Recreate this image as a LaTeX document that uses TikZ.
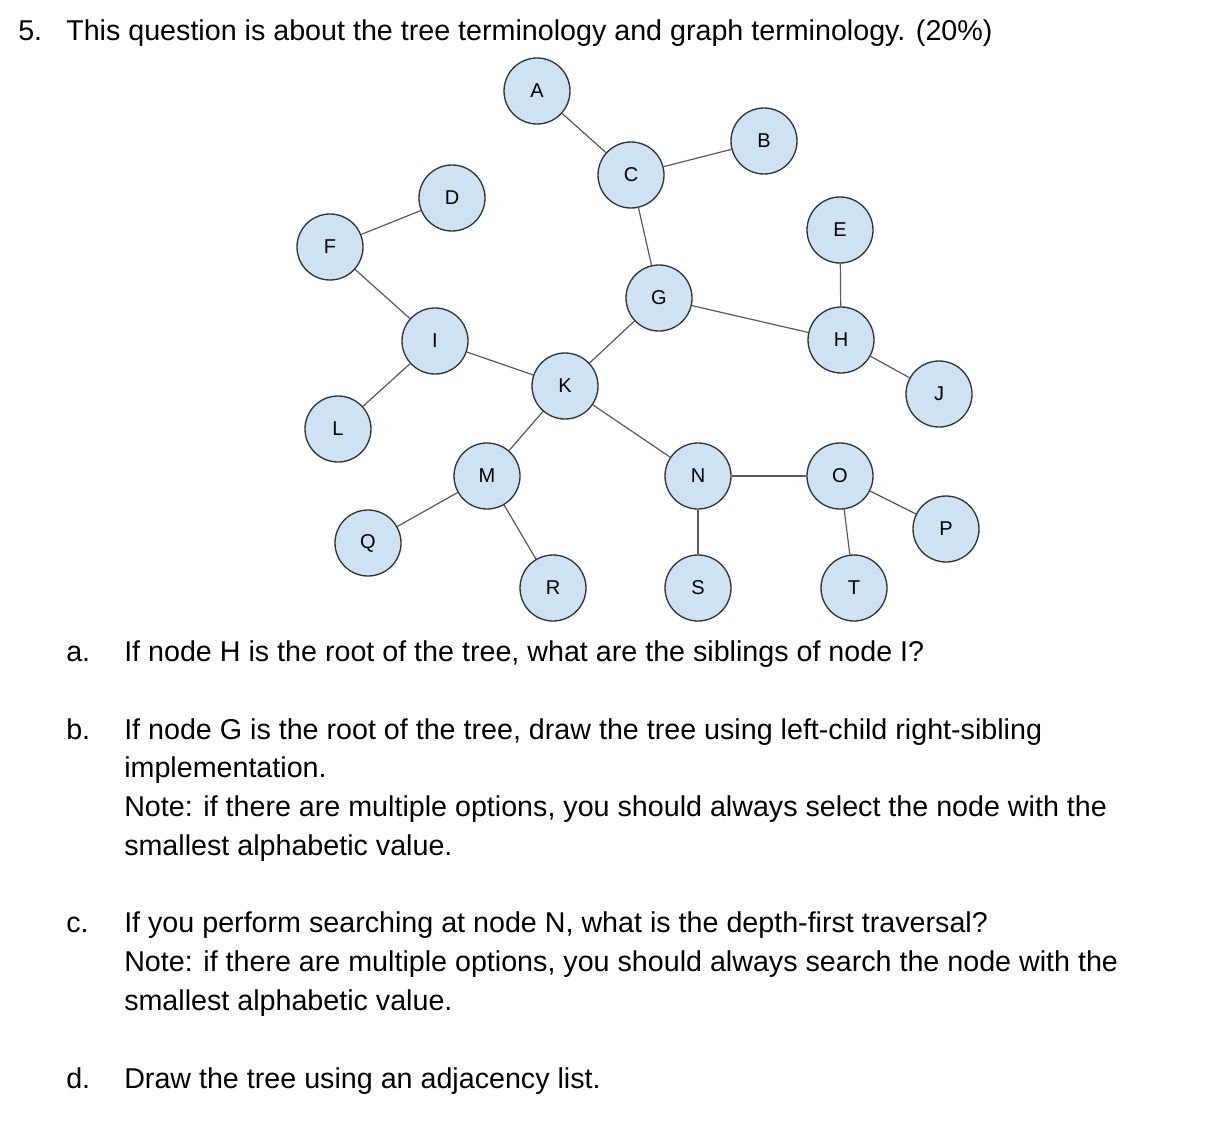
\documentclass[tikz,border=0pt]{standalone}
\usepackage{fontspec}
\setmainfont{Liberation Sans}
\begin{document}
\begin{tikzpicture}[x=0.75pt,y=-0.75pt,
  vx/.style={circle,draw=black!80,line width=1pt,fill={rgb,255:red,207;green,226;blue,243},minimum size=49.5pt,inner sep=0pt,font=\fontsize{15}{15}\selectfont},
  ed/.style={draw=black!65,line width=0.9pt},
  tx/.style={anchor=base west,inner sep=0pt,font=\fontsize{21.5}{26}\selectfont}]
\useasboundingbox (0,0) rectangle (1216,1124);
\foreach \n/\x/\y in {A/537/91,B/764/141,C/631/175,D/452/198,E/840/230,F/330/247,G/659/298,H/841/340,I/435/341,J/939/394,K/565/386,L/338/429,M/487/476,N/698/476,O/840/476,P/946/529,Q/368/543,R/553/588,S/698/588,T/854/588}
  \node[vx] (\n) at (\x,\y) {\n};
\foreach \a/\b in {A/C,C/B,C/G,D/F,F/I,I/L,I/K,K/G,G/H,E/H,H/J,K/M,M/Q,M/R,K/N,N/O,N/S,O/P,O/T}
  \draw[ed] (\a) -- (\b);
\node[tx] (t0) at (18,41) {5.};
\node[tx] (t1) at (66,41) {This question is about the tree terminology and graph terminology. (20\%)};
\node[tx] (la) at (66,661) {a.};
\node[tx] (a1) at (124,661) {If node H is the root of the tree, what are the siblings of node I?};
\node[tx] (lb) at (66,739) {b.};
\node[tx] (b1) at (124,739) {If node G is the root of the tree, draw the tree using left-child right-sibling};
\node[tx] (b2) at (124,777) {implementation.};
\node[tx] (b3) at (124,816) {Note: if there are multiple options, you should always select the node with the};
\node[tx] (b4) at (124,855) {smallest alphabetic value.};
\node[tx] (lc) at (66,932) {c.};
\node[tx] (c1) at (124,932) {If you perform searching at node N, what is the depth-first traversal?};
\node[tx] (c2) at (124,971) {Note: if there are multiple options, you should always search the node with the};
\node[tx] (c3) at (124,1010) {smallest alphabetic value.};
\node[tx] (ld) at (66,1088) {d.};
\node[tx] (d1) at (124,1088) {Draw the tree using an adjacency list.};
\end{tikzpicture}
\end{document}
